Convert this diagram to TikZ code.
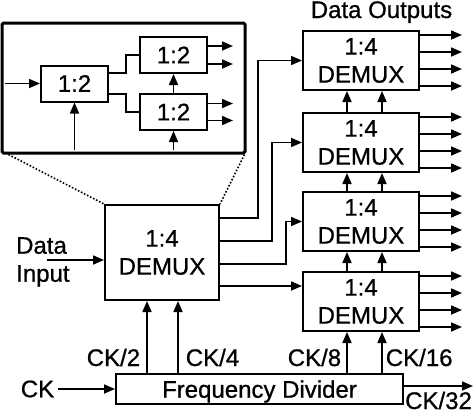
\documentclass[tikz,border=0pt]{standalone}
\usepackage{fontspec}
\setmainfont{Liberation Sans}[RawFeature={embolden=0.8}]
\usepackage{tikz}
\usetikzlibrary{arrows.meta,positioning,calc}
\tikzstyle{demux}=[draw,line width=2pt,minimum width=116pt,minimum height=59pt,inner sep=0pt,align=center]
\tikzstyle{half}=[draw,line width=2pt,minimum width=67pt,minimum height=36pt,inner sep=0pt]
\tikzstyle{arr}=[-{Triangle[length=11pt,width=9pt]},line width=1.7pt]
\tikzstyle{wire}=[line width=1.7pt]
\tikzstyle{lbl}=[inner sep=0pt]

\begin{document}
\begin{tikzpicture}[x=1pt,y=-1pt,every node/.style={font=\fontsize{24}{28}\selectfont}]
\useasboundingbox (0,0) rectangle (474,413);
% zoomed view of the first stage
\node [draw,line width=3pt,rounded corners=1.5pt,minimum width=243pt,minimum height=130pt] (zoom) at (123.5,88) {};
\node [half] (a) at (74.5,83.5) {1:2};
\node [half] (b) at (173.5,55) {1:2};
\node [half] (c) at (173.5,112) {1:2};
\draw [arr,shorten <=4pt] (zoom.west |- a.west) -- (a.west);
\draw [arr,shorten <=5pt] (zoom.south -| a.south) -- (a.south);
\draw [arr,shorten <=5pt] (zoom.south -| c.south) -- (c.south);
\draw [arr] (c.north) -- (b.south);
\draw [wire] ([yshift=10.5pt]a.east) -- ++(17,0) |- (b.west);
\draw [wire] ([yshift=-10.5pt]a.east) -- ++(17,0) |- (c.west);
\foreach \s in {9,-9} \draw [arr] ([yshift=\s pt]b.east) -- ++(25,0);
\foreach \s in {8.5,-8.5} \draw [arr] ([yshift=\s pt]c.east) -- ++(25,0);

% main blocks
\node [demux,minimum width=114pt,minimum height=95pt] (main) at (162,252.5) {1:4\\DEMUX};
\node [demux] (d1) at (361,60.5) {1:4\\DEMUX};
\node [demux] (d2) at (361,142.5) {1:4\\DEMUX};
\node [demux] (d3) at (361,221.5) {1:4\\DEMUX};
\node [demux] (d4) at (361,301.5) {1:4\\DEMUX};
\node [draw,line width=2pt,minimum width=287pt,minimum height=30pt,inner sep=0pt,text depth=0pt] (freq) at (259.5,389) {Frequency Divider};
\node [lbl,anchor=base] (outs) at (381.5,18) {Data Outputs};

\draw [dash pattern=on 1.6pt off 1.8pt,line width=1.6pt] ([xshift=8pt]zoom.south west) -- (main.north west);
\draw [dash pattern=on 1.6pt off 1.8pt,line width=1.6pt] ([xshift=-2pt]zoom.south east) -- (main.north east);

% inputs
\node [lbl,anchor=north west,align=left] (din) at (16,237) {Data\\Input};
\coordinate (inpt) at (47,260);
\draw [arr] (inpt) -- (inpt -| main.west);
\node [lbl] (ck) at (37.5,389) {CK};
\draw [arr,shorten <=4pt] (ck.east) -- (freq.west);
\coordinate (out32) at (473,386);
\draw [arr] (out32 -| freq.east) -- (out32);
\node [lbl,anchor=base west] (ck32) at (405,409) {CK/32};

% data paths
\draw [arr] ([yshift=34.5pt]main.east) -- ++(38,0) |- (d1.west);
\draw [arr] ([yshift=11.5pt]main.east) -- ++(52,0) |- (d2.west);
\draw [arr] ([yshift=-11.5pt]main.east) -- ++(66,0) |- (d3.west);
\coordinate (o4) at ([yshift=-33.5pt]main.east);
\draw [arr] (o4) -- (o4 -| d4.west);
\foreach \b in {d1,d2,d3,d4}
  \foreach \s in {25.5,8.5,-8.5,-25.5}
    \draw [arr] ([yshift=\s pt]\b.east) -- ++(42,0);

% clocks
\coordinate (k2) at ([xshift=-15pt]main.south);
\coordinate (k4) at ([xshift=16pt]main.south);
\coordinate (k8) at ([xshift=-14pt]d4.south);
\coordinate (k16) at ([xshift=21pt]d4.south);
\draw [arr] (k2 |- freq.north) -- (k2) node [lbl,pos=0,anchor=base east,xshift=-6pt,yshift=7pt] {CK/2};
\draw [arr] (k4 |- freq.north) -- (k4) node [lbl,pos=0,anchor=base west,xshift=7pt,yshift=7pt] {CK/4};
\draw [arr] (k8 |- freq.north) -- (k8) node [lbl,pos=0,anchor=base east,xshift=-5pt,yshift=7pt] {CK/8};
\draw [arr] (k16 |- freq.north) -- (k16) node [lbl,pos=0,anchor=base west,xshift=3pt,yshift=7pt] {CK/16};
\foreach \lo/\hi in {d4/d3,d3/d2,d2/d1} {
  \draw [arr] ([xshift=-14pt]\lo.north) -- ([xshift=-14pt]\hi.south);
  \draw [arr] ([xshift=21pt]\lo.north) -- ([xshift=21pt]\hi.south);
}
\end{tikzpicture}
\end{document}
